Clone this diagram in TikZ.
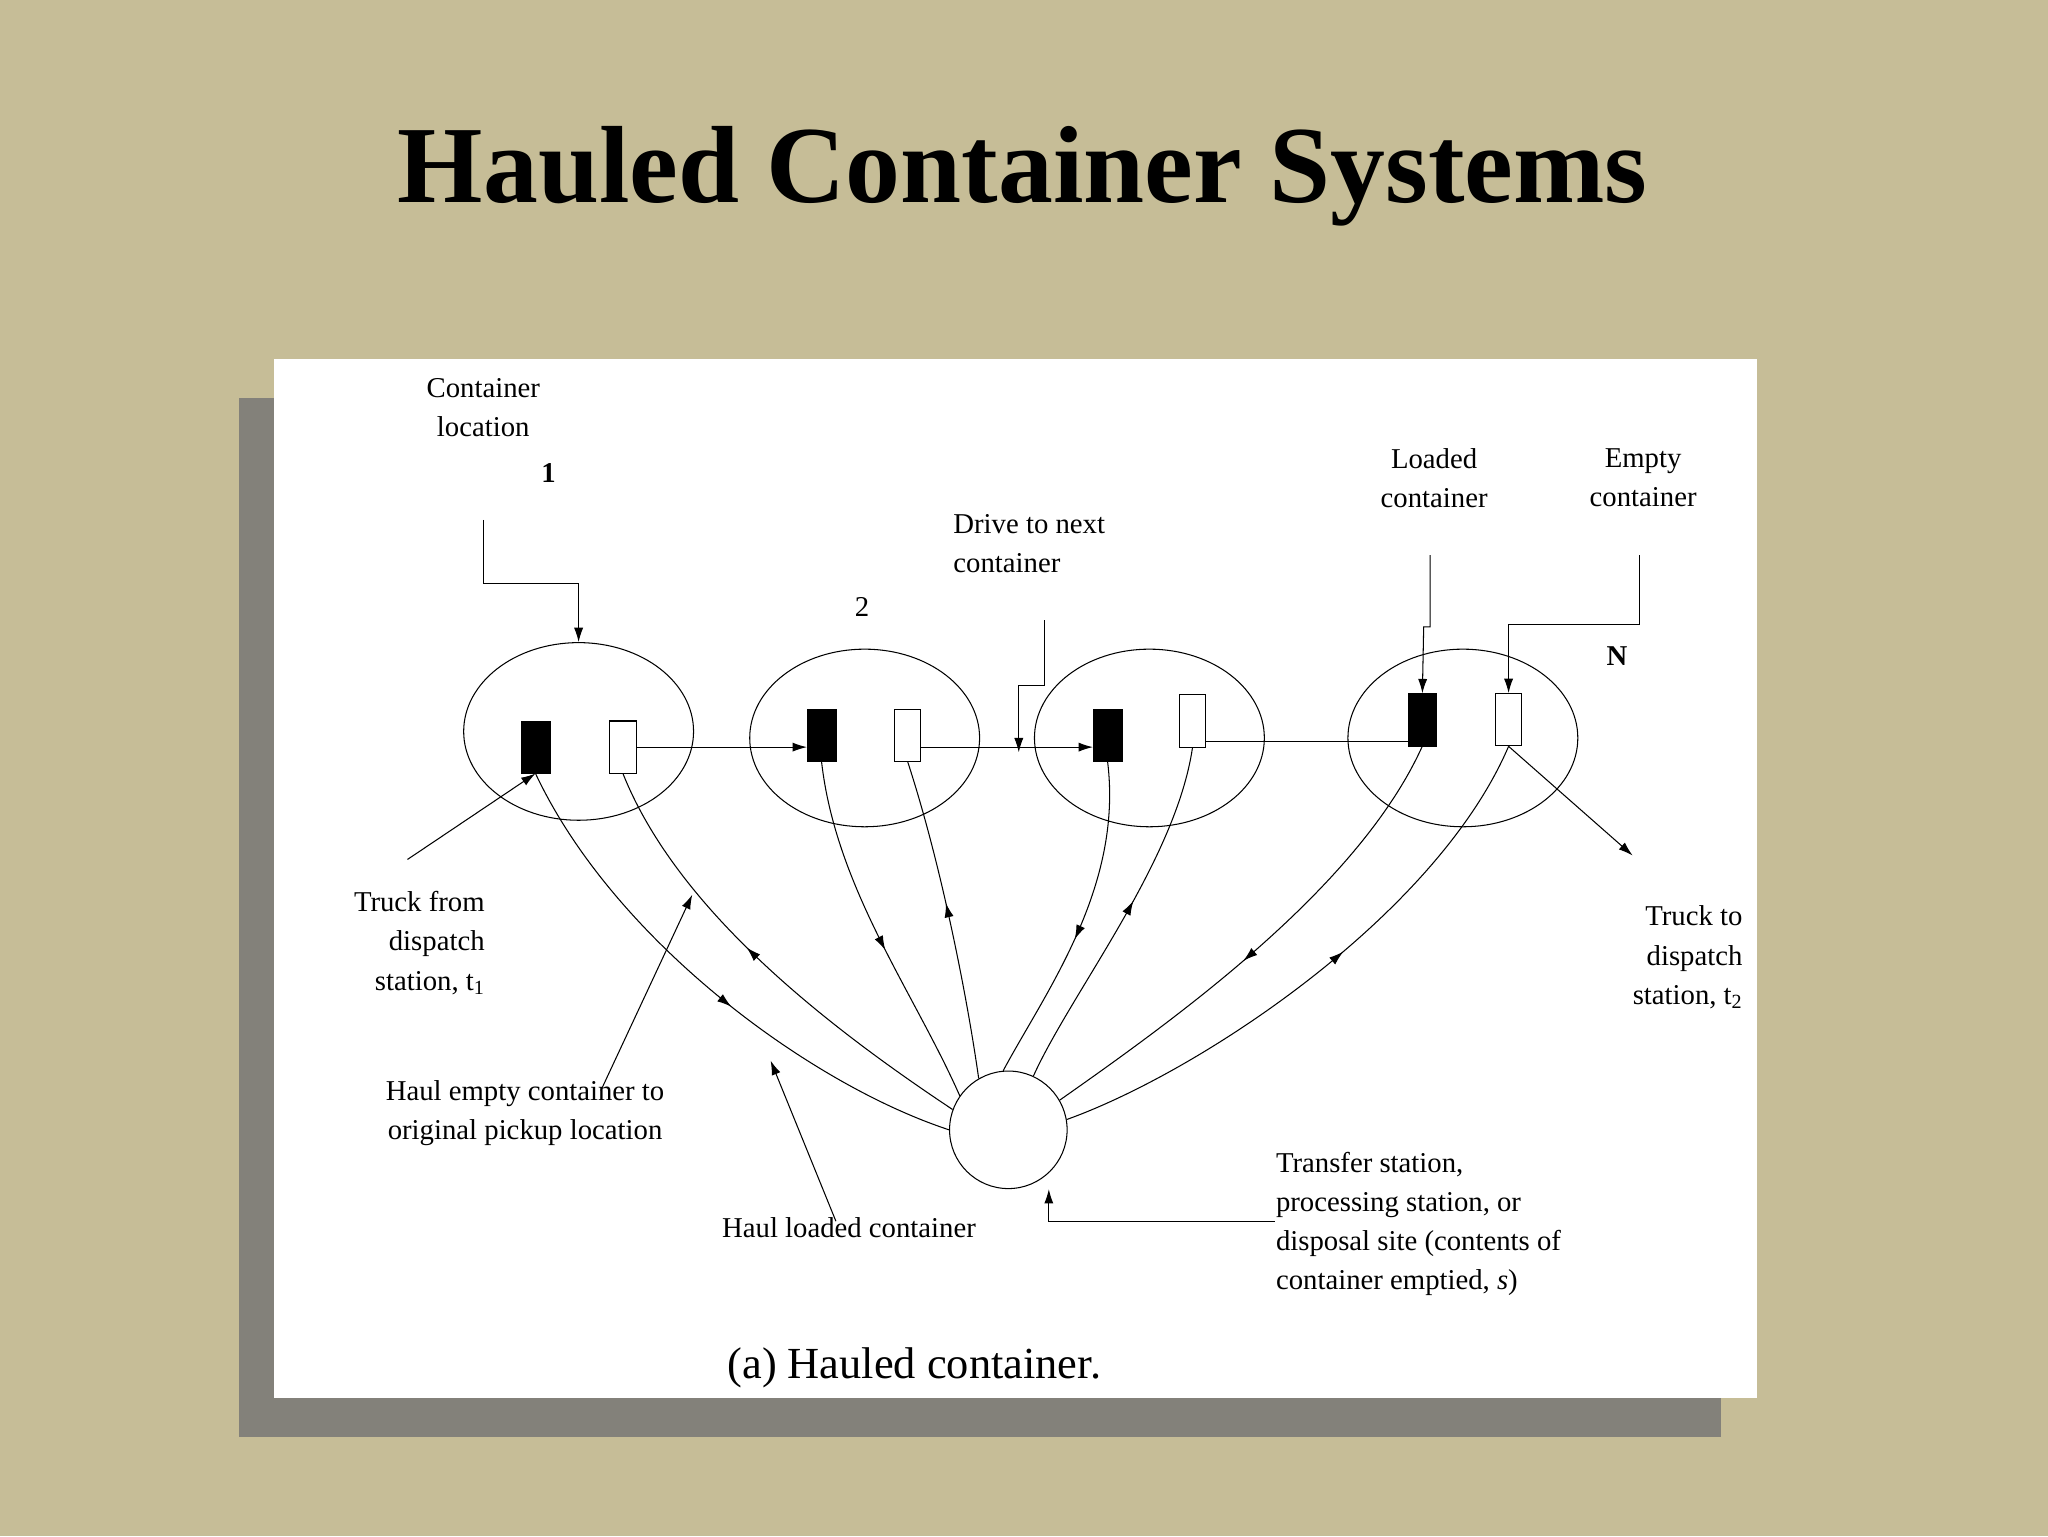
\documentclass[tikz,border=0pt]{standalone}
\usepackage{fontspec}
\setmainfont{Liberation Serif}
\usetikzlibrary{arrows.meta,shapes.geometric}
\definecolor{tan}{HTML}{C6BD97}
\tikzset{
  lbl/.style={inner sep=0.75pt, align=center, font=\fontsize{22}{30}\selectfont},
  stop/.style={ellipse, draw, thick, minimum width=176pt, minimum height=136pt},
  full/.style={draw, fill=black, minimum width=22pt, minimum height=40pt, inner sep=0pt},
  empty/.style={draw, thick, fill=white, minimum width=20pt, minimum height=40pt, inner sep=0pt},
  arr/.style={thick, -{Latex[length=11pt,width=7pt]}},
  mid/.style={thick, postaction={decorate}, decoration={markings, mark=at position 0.55 with {\arrow{Latex[length=11pt,width=7pt]}}}}
}
\usetikzlibrary{decorations.markings}
\begin{document}
\begin{tikzpicture}[x=1pt, y=1pt, yscale=-1]
\useasboundingbox (0,0) rectangle (1568,1176);
\fill[tan] (0,0) rectangle (1568,1176);
% panel
\fill[black!55, opacity=0.8] (183,305) rectangle (1318,1100);
\fill[white] (210,275) rectangle (1345,1070);
% title
\node[inner sep=0pt, font=\fontsize{84}{90}\bfseries] (title) at (783,135) {Hauled Container Systems};
% stops
\node[stop] (s1) at (443,560) {};
\node[stop] (s2) at (662,565) {};
\node[stop] (s3) at (880,565) {};
\node[stop] (s4) at (1120,565) {};
\node[full] (b1) at (410,572) {};
\node[empty] (w1) at (477,572) {};
\node[full] (b2) at (629,563) {};
\node[empty] (w2) at (695,563) {};
\node[full] (b3) at (848,563) {};
\node[empty] (w3) at (913,552) {};
\node[full] (b4) at (1089,551) {};
\node[empty] (w4) at (1155,551) {};
\node[circle, draw, thick, minimum size=90pt] (site) at (772,865) {};
% drive to next
\draw[arr] (w1.east |- 0,572) -- (b2.west |- 0,572);
\draw[arr] (w2.east |- 0,572) -- (b3.west |- 0,572);
\draw[thick] (w3.east |- 0,568) -- (b4.west |- 0,568);
% hauls
\draw[mid] (b1.south) .. controls (470,720) and (620,830) .. (site.west);
\draw[mid] (site.160) .. controls (640,790) and (520,700) .. (w1.south);
\draw[mid] (b2.south) .. controls (640,680) and (700,760) .. (site.145);
\draw[mid] (site.120) .. controls (740,760) and (720,660) .. (w2.south);
\draw[mid] (b3.south) .. controls (860,680) and (800,760) .. (site.95);
\draw[mid] (site.65) .. controls (820,760) and (900,660) .. (w3.south);
\draw[mid] (b4.south) .. controls (1040,680) and (900,780) .. (site.30);
\draw[mid] (site.10) .. controls (920,820) and (1100,700) .. (w4.south);
\draw[arr] (w4.south) -- (1250,655);
% labels
\node[lbl] (cl) at (370,312) {Container\\location};
\node[lbl, font=\fontsize{22}{30}\bfseries] (one) at (420,362) {1};
\node[lbl] (two) at (660,465) {2};
\node[lbl, font=\fontsize{22}{30}\bfseries] (enn) at (1238,502) {N};
\node[lbl, align=left] (drive) at (788,416) {Drive to next\\container};
\node[lbl] (loaded) at (1098,366) {Loaded\\container};
\node[lbl] (emptyl) at (1258,366) {Empty\\container};
\node[lbl, align=right, anchor=east] (tfrom) at (372,722) {Truck from\\dispatch\\station, t\textsubscript{1}};
\node[lbl, align=right, anchor=east] (tto) at (1335,733) {Truck to\\dispatch\\station, t\textsubscript{2}};
\node[lbl] (hempty) at (402,852) {Haul empty container to\\original pickup location};
\node[lbl] (hloaded) at (650,940) {Haul loaded container};
\node[lbl, align=left, anchor=west] (transfer) at (976,937) {Transfer station,\\processing station, or\\disposal site (contents of\\container emptied, \textit{s})};
\node[inner sep=0pt, font=\fontsize{34}{38}\selectfont] (caption) at (700,1047) {(a) Hauled container.};
% pointers
\draw[arr] (370,398) -- (370,447) -- (443,447) -- (s1.north);
\draw[arr] (1095,425) -- (1095,480) -- (1090,480) -- (b4.north);
\draw[arr] (1255,425) -- (1255,478) -- (1155,478) -- (w4.north);
\draw[arr] (800,475) -- (800,525) -- (780,525) -- (780,576);
\draw[arr] (312,658) -- (b1.south);
\draw[arr] (460,835) -- (530,685);
\draw[arr] (640,935) -- (590,812);
\draw[arr] (transfer.west |- 0,935) -- (803,935) -- (site.south -| 803,0);
\end{tikzpicture}
\end{document}
